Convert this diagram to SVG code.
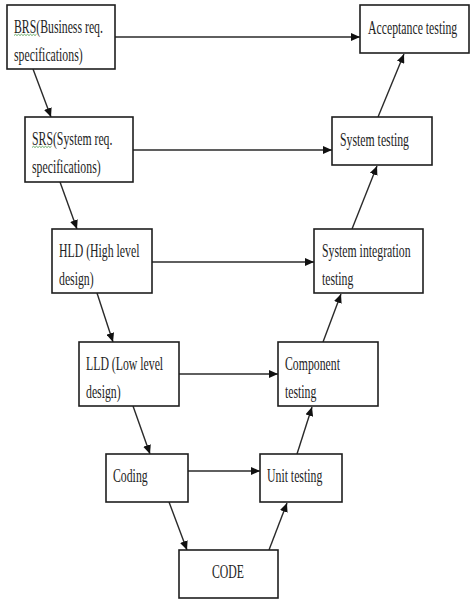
<svg xmlns="http://www.w3.org/2000/svg" width="474" height="602" viewBox="0 0 474 602">
<style>
.box{fill:#fff;stroke:#1e1e1e;stroke-width:1.6}
.t{font-family:"Liberation Serif","Times New Roman",serif;font-size:19px;fill:#1e1e1e}
.c{fill:none;stroke:#2a2a2a;stroke-width:1.4}
.sq{fill:none;stroke:#5aa05a;stroke-width:0.9}
</style>
<defs>
<marker id="ah" markerUnits="userSpaceOnUse" markerWidth="10" markerHeight="8" refX="9" refY="4" orient="auto">
<path d="M0,0 L9,4 L0,8 Z" fill="#111"/>
</marker>
</defs>
<rect width="474" height="602" fill="#fff"/>
<g id="connectors">
<line class="c" x1="115" y1="37" x2="360" y2="37" marker-end="url(#ah)"/>
<line class="c" x1="133" y1="150" x2="332" y2="150" marker-end="url(#ah)"/>
<line class="c" x1="152" y1="262" x2="314" y2="262" marker-end="url(#ah)"/>
<line class="c" x1="179" y1="374" x2="278" y2="374" marker-end="url(#ah)"/>
<line class="c" x1="188" y1="471" x2="260" y2="471" marker-end="url(#ah)"/>
<line class="c" x1="33" y1="69" x2="51" y2="117" marker-end="url(#ah)"/>
<line class="c" x1="60" y1="182" x2="77" y2="229" marker-end="url(#ah)"/>
<line class="c" x1="97" y1="293" x2="113" y2="342" marker-end="url(#ah)"/>
<line class="c" x1="133" y1="406" x2="150" y2="454" marker-end="url(#ah)"/>
<line class="c" x1="169" y1="502" x2="187" y2="550" marker-end="url(#ah)"/>
<line class="c" x1="269" y1="550" x2="287" y2="503" marker-end="url(#ah)"/>
<line class="c" x1="297" y1="454" x2="312" y2="407" marker-end="url(#ah)"/>
<line class="c" x1="323" y1="342" x2="341" y2="294" marker-end="url(#ah)"/>
<line class="c" x1="352" y1="229" x2="377" y2="166" marker-end="url(#ah)"/>
<line class="c" x1="378" y1="117" x2="404" y2="54" marker-end="url(#ah)"/>
</g>
<g id="brs">
<rect class="box" x="7" y="5" width="108" height="64"/>
<text class="t" transform="translate(14,33) scale(0.62,1)">BRS(Business req.</text>
<text class="t" transform="translate(14,61) scale(0.62,1)">specifications)</text>
<path class="sq" d="M14,35.5 l1.5,-1.2 l1.5,1.2 l1.5,-1.2 l1.5,1.2 l1.5,-1.2 l1.5,1.2 l1.5,-1.2 l1.5,1.2 l1.5,-1.2 l1.5,1.2 l1.5,-1.2 l1.5,1.2 l1.5,-1.2 l1.5,1.2 l1.5,-1.2"/>
</g>
<g id="srs">
<rect class="box" x="25" y="117" width="108" height="65"/>
<text class="t" transform="translate(32,145) scale(0.62,1)">SRS(System req.</text>
<text class="t" transform="translate(32,173) scale(0.62,1)">specifications)</text>
<path class="sq" d="M32,147.5 l1.5,-1.2 l1.5,1.2 l1.5,-1.2 l1.5,1.2 l1.5,-1.2 l1.5,1.2 l1.5,-1.2 l1.5,1.2 l1.5,-1.2 l1.5,1.2 l1.5,-1.2 l1.5,1.2 l1.5,-1.2"/>
</g>
<g id="hld">
<rect class="box" x="52" y="229" width="100" height="64"/>
<text class="t" transform="translate(59,257) scale(0.62,1)">HLD (High level</text>
<text class="t" transform="translate(59,285) scale(0.62,1)">design)</text>
</g>
<g id="lld">
<rect class="box" x="79" y="342" width="100" height="64"/>
<text class="t" transform="translate(86,370) scale(0.62,1)">LLD (Low level</text>
<text class="t" transform="translate(86,398) scale(0.62,1)">design)</text>
</g>
<g id="coding">
<rect class="box" x="106" y="454" width="82" height="48"/>
<text class="t" transform="translate(113,482) scale(0.62,1)">Coding</text>
</g>
<g id="code">
<rect class="box" x="179" y="550" width="99" height="48"/>
<text class="t" transform="translate(212,578) scale(0.62,1)">CODE</text>
</g>
<g id="unit-testing">
<rect class="box" x="260" y="454" width="82" height="48"/>
<text class="t" transform="translate(267,482) scale(0.62,1)">Unit testing</text>
</g>
<g id="component-testing">
<rect class="box" x="278" y="342" width="100" height="64"/>
<text class="t" transform="translate(285,370) scale(0.62,1)">Component</text>
<text class="t" transform="translate(285,398) scale(0.62,1)">testing</text>
</g>
<g id="system-integration-testing">
<rect class="box" x="314" y="229" width="109" height="64"/>
<text class="t" transform="translate(322,257) scale(0.62,1)">System integration</text>
<text class="t" transform="translate(322,285) scale(0.62,1)">testing</text>
</g>
<g id="system-testing">
<rect class="box" x="332" y="117" width="100" height="48"/>
<text class="t" transform="translate(340,146) scale(0.62,1)">System testing</text>
</g>
<g id="acceptance-testing">
<rect class="box" x="360" y="5" width="109" height="48"/>
<text class="t" transform="translate(368,34) scale(0.62,1)">Acceptance testing</text>
</g>
</svg>
